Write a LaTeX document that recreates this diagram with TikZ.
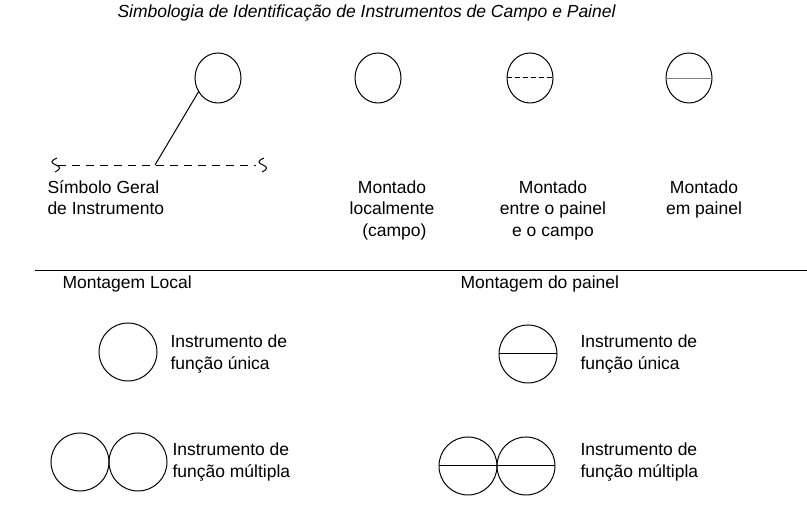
\documentclass[tikz,border=0pt]{standalone}
\usepackage{fontspec}
\setmainfont{Liberation Sans}
\begin{document}
\begin{tikzpicture}[x=1pt,y=-1pt,line width=1pt,
  txt/.style={font=\fontsize{17.5}{21.5}\selectfont,inner sep=0pt,align=left},
  ctxt/.style={font=\fontsize{17.5}{21.5}\selectfont,inner sep=0pt,align=center}]
\useasboundingbox (0,0) rectangle (807,518);
\node[txt,font=\itshape\fontsize{17.5}{20}\selectfont,anchor=west] (title) at (117,13) {Simbologia de Identificação de Instrumentos de Campo e Painel};
% top symbols
\draw (218,78) ellipse [x radius=23,y radius=25];
\coordinate (lt) at (199,91);
\coordinate (lb) at (155,165);
\draw (lt) -- (lb);
\draw[dashed,dash pattern=on 8pt off 6pt,line width=0.8pt] (58,165) -- (256,165);
\draw[line width=1pt] (57,158) .. controls (50,161) and (51,163) .. (56,165) .. controls (61,167) and (61,169) .. (55,172);
\draw[line width=1pt] (264,158) .. controls (257,161) and (258,163) .. (263,165) .. controls (268,167) and (268,169) .. (262,172);
\node[txt,anchor=north west] (l1) at (47,180) {Símbolo Geral\\de Instrumento};
\draw (378,78) ellipse [x radius=23,y radius=25];
\node[ctxt,anchor=north] (l2) at (392,180) {Montado\\localmente\\\ (campo)};
\draw (530,78) ellipse [x radius=23,y radius=25];
\draw[dashed,dash pattern=on 5pt off 3pt] (507,78) -- (553,78);
\node[ctxt,anchor=north] (l3) at (553,180) {Montado\\entre o painel\\e o campo};
\draw (689,78) ellipse [x radius=23,y radius=25];
\draw[line width=0.4pt,gray] (666,78) -- (712,78);
\node[ctxt,anchor=north] (l4) at (704,180) {Montado\\em painel};
% divider
\draw[line width=0.6pt] (35,270) -- (807,270);
\node[txt,anchor=west] (ml) at (62,284) {Montagem Local};
\node[txt,anchor=west] (mp) at (460,284) {Montagem do painel};
% local
\draw (128,352) circle (29);
\node[txt,anchor=west] (t1) at (170,354) {Instrumento de\\função única};
\draw (80,462) circle (29);
\draw (138,462) circle (29);
\node[txt,anchor=west] (t2) at (172,462) {Instrumento de\\função múltipla};
% panel
\draw (528,354) circle (29);
\draw (499,354) -- (557,354);
\node[txt,anchor=west] (t3) at (580,354) {Instrumento de\\função única};
\draw (468,466) circle (29);
\draw (526,466) circle (29);
\draw (439,466) -- (555,466);
\node[txt,anchor=west] (t4) at (580,462) {Instrumento de\\função múltipla};
\end{tikzpicture}
\end{document}
